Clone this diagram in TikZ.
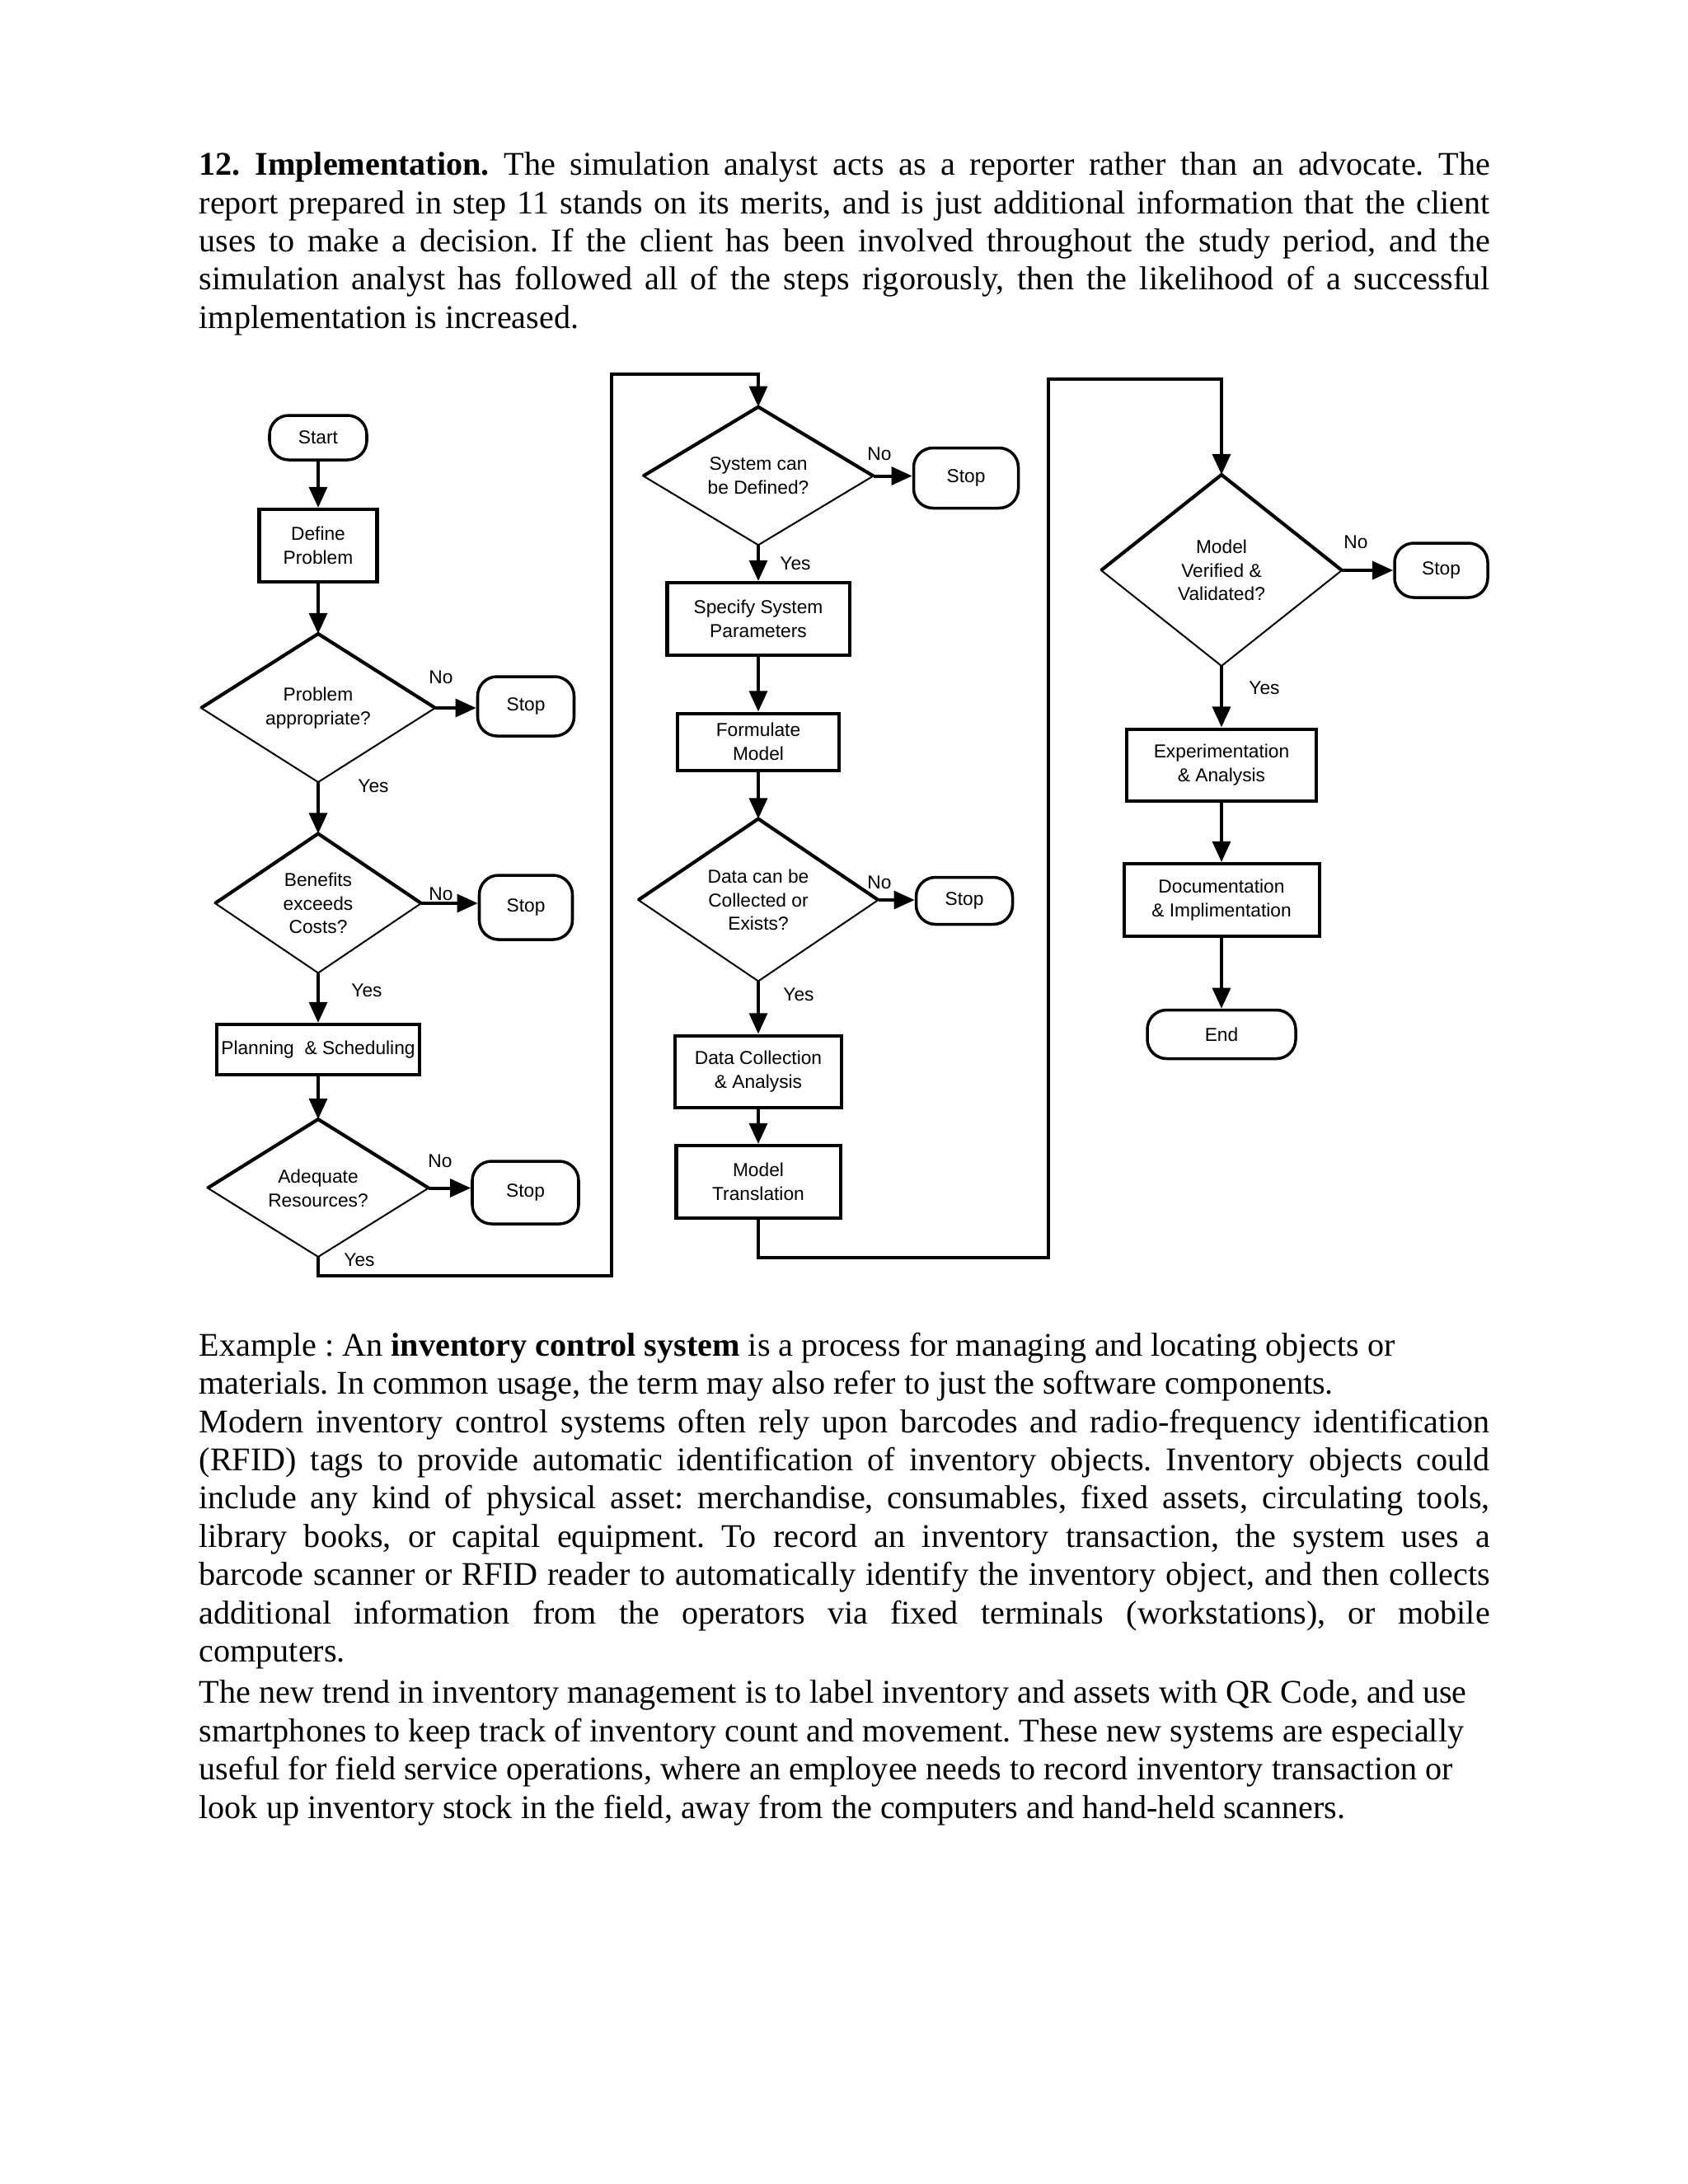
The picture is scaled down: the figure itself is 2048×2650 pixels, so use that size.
\documentclass[tikz,border=0pt]{standalone}
\usepackage{fontspec}
\setmainfont{Liberation Serif}
\newfontfamily\fcfont{Liberation Sans}
\usetikzlibrary{shapes.geometric,arrows.meta}
\newcommand\pxu{0.298828pt}
\newcommand\jline[1]{\makebox[468pt][s]{#1}}
\begin{document}
\begin{tikzpicture}[x=0.298828pt,y=-0.298828pt,
  fc/.style={font=\fcfont\fontsize{6.8}{8.6}\selectfont, align=center, inner sep=0pt},
  term/.style={fc, draw, line width=1.05pt, rounded corners=7pt},
  proc/.style={fc, draw, line width=1.2pt},
  dia/.style={fc, diamond, draw, line width=0.6pt, outer sep=0pt},
  lbl/.style={fc},
  flow/.style={line width=1.2pt, -{Triangle[length=7.5pt,width=6.5pt]}},
  topedge/.style={line width=1.25pt},
  body/.style={font=\rmfamily\fontsize{12}{13.85}\selectfont\frenchspacing, inner sep=0pt, anchor=base west}
]
\path[fill=white,use as bounding box] (0,0) rectangle (2048,2650);

% ---------- paragraph 1 ----------
\node[body] (p1a) at (241,212.7) {\jline{\textbf{12. Implementation.} The simulation analyst acts as a reporter rather than an advocate. The}};
\node[body] (p1b) at (241,259.0) {\jline{report prepared in step 11 stands on its merits, and is just additional information that the client}};
\node[body] (p1c) at (241,305.4) {\jline{uses to make a decision. If the client has been involved throughout the study period, and the}};
\node[body] (p1d) at (241,351.7) {\jline{simulation analyst has followed all of the steps rigorously, then the likelihood of a successful}};
\node[body] (p1e) at (241,398.0) {implementation is increased.};

% ---------- paragraph 2 ----------
\node[body] (p2a) at (241,1645) {Example : An \textbf{inventory control system} is a process for managing and locating objects or};
\node[body] (p2b) at (241,1691) {materials. In common usage, the term may also refer to just the software components.};

% ---------- paragraph 3 ----------
\node[body] (p3a) at (241,1738.0) {\jline{Modern inventory control systems often rely upon barcodes and radio-frequency identification}};
\node[body] (p3b) at (241,1784.5) {\jline{(RFID) tags to provide automatic identification of inventory objects. Inventory objects could}};
\node[body] (p3c) at (241,1830.9) {\jline{include any kind of physical asset: merchandise, consumables, fixed assets, circulating tools,}};
\node[body] (p3d) at (241,1877.4) {\jline{library books, or capital equipment. To record an inventory transaction, the system uses a}};
\node[body] (p3e) at (241,1923.8) {\jline{barcode scanner or RFID reader to automatically identify the inventory object, and then collects}};
\node[body] (p3f) at (241,1970.3) {\jline{additional information from the operators via fixed terminals (workstations), or mobile}};
\node[body] (p3g) at (241,2016.7) {computers.};

% ---------- paragraph 4 ----------
\node[body] (p4a) at (241,2066.7) {The new trend in inventory management is to label inventory and assets with QR Code, and use};
\node[body] (p4b) at (241,2113.1) {smartphones to keep track of inventory count and movement. These new systems are especially};
\node[body] (p4c) at (241,2159.6) {useful for field service operations, where an employee needs to record inventory transaction or};
\node[body] (p4d) at (241,2206.0) {look up inventory stock in the field, away from the computers and hand-held scanners.};

% ---------- column 1 ----------
\node[term, minimum width=118*\pxu, minimum height=54*\pxu] (start) at (386,531) {Start};
\node[proc, minimum width=143*\pxu, minimum height=88*\pxu] (define) at (386,662) {Define\\Problem};
\node[dia, minimum width=284*\pxu, minimum height=180*\pxu] (d1) at (386,859) {Problem\\appropriate?};
\node[term, minimum width=117*\pxu, minimum height=72*\pxu] (stop1) at (638,857) {Stop};
\node[dia, minimum width=250*\pxu, minimum height=169*\pxu] (d2) at (386,1096) {Benefits\\exceeds\\Costs?};
\node[term, minimum width=113*\pxu, minimum height=78*\pxu] (stop2) at (638,1101) {Stop};
\node[proc, minimum width=246*\pxu, minimum height=61*\pxu] (plan) at (386,1273.5) {Planning \ \& Scheduling};
\node[dia, minimum width=268*\pxu, minimum height=153*\pxu] (d3) at (386,1441.5) {Adequate\\Resources?};
\node[term, minimum width=129*\pxu, minimum height=76*\pxu] (stop3) at (637.5,1447) {Stop};

% ---------- column 2 ----------
\node[dia, minimum width=279*\pxu, minimum height=161*\pxu] (d4) at (920,577.5) {System can\\be Defined?};
\node[term, minimum width=127*\pxu, minimum height=73*\pxu] (stop4) at (1172,580) {Stop};
\node[proc, minimum width=221*\pxu, minimum height=88*\pxu] (spec) at (920,751) {Specify System\\Parameters};
\node[proc, minimum width=196*\pxu, minimum height=69*\pxu] (form) at (920,900) {Formulate\\Model};
\node[dia, minimum width=291*\pxu, minimum height=190*\pxu] (d5) at (920,1092) {Data can be\\Collected or\\Exists?};
\node[term, minimum width=117*\pxu, minimum height=57*\pxu] (stop5) at (1170,1093) {Stop};
\node[proc, minimum width=202*\pxu, minimum height=87*\pxu] (dcoll) at (920,1300) {Data Collection\\\& Analysis};
\node[proc, minimum width=199*\pxu, minimum height=88*\pxu] (mtrans) at (920,1434) {Model\\Translation};

% ---------- column 3 ----------
\node[dia, minimum width=292*\pxu, minimum height=232*\pxu] (d6) at (1482,692) {Model\\Verified \&\\Validated?};
\node[term, minimum width=113*\pxu, minimum height=66*\pxu] (stop6) at (1748.5,692) {Stop};
\node[proc, minimum width=230*\pxu, minimum height=87*\pxu] (exper) at (1482,928) {Experimentation\\\& Analysis};
\node[proc, minimum width=237*\pxu, minimum height=88*\pxu] (doc) at (1482,1092) {Documentation\\\& Implimentation};
\node[term, minimum width=180*\pxu, minimum height=59*\pxu] (end) at (1482,1255) {End};

% thick upper edges of the decisions
\foreach \d in {d1,d2,d3,d4,d5,d6}{
  \draw[topedge] (\d.west) -- (\d.north) -- (\d.east);
}

% ---------- labels ----------
\node[lbl] (no1) at (535,822) {No};
\node[lbl] (yes1) at (453,954) {Yes};
\node[lbl] (no2) at (535,1085) {No};
\node[lbl] (yes2) at (445,1202) {Yes};
\node[lbl] (no3) at (534,1409) {No};
\node[lbl] (yes3) at (436,1529) {Yes};
\node[lbl] (no4) at (1067,551) {No};
\node[lbl] (yes4) at (965,684) {Yes};
\node[lbl] (no5) at (1067,1071) {No};
\node[lbl] (yes5) at (969,1207) {Yes};
\node[lbl] (no6) at (1645,658) {No};
\node[lbl] (yes6) at (1534,835) {Yes};

% ---------- connectors ----------
\draw[flow] (start) -- (define);
\draw[flow] (define) -- (d1);
\draw[flow] (d1.east) -- (d1.east -| stop1.west);
\draw[flow] (d1) -- (d2);
\draw[flow] (d2.east) -- (d2.east -| stop2.west);
\draw[flow] (d2) -- (plan);
\draw[flow] (plan) -- (d3);
\draw[flow] (d3.east) -- (d3.east -| stop3.west);

\coordinate (l1b) at (742,1548);
\coordinate (l1c) at (742,454);
\draw[flow] (d3.south) -- (d3.south |- l1b) -- (l1b) -- (l1c) -- (l1c -| d4.north) -- (d4.north);

\draw[flow] (d4.east) -- (d4.east -| stop4.west);
\draw[flow] (d4) -- (spec);
\draw[flow] (spec) -- (form);
\draw[flow] (form) -- (d5);
\draw[flow] (d5.east) -- (d5.east -| stop5.west);
\draw[flow] (d5) -- (dcoll);
\draw[flow] (dcoll) -- (mtrans);

\coordinate (l2b) at (1272,1526);
\coordinate (l2c) at (1272,460);
\draw[flow] (mtrans.south) -- (mtrans.south |- l2b) -- (l2b) -- (l2c) -- (l2c -| d6.north) -- (d6.north);

\draw[flow] (d6.east) -- (d6.east -| stop6.west);
\draw[flow] (d6) -- (exper);
\draw[flow] (exper) -- (doc);
\draw[flow] (doc) -- (end);
\end{tikzpicture}
\end{document}
